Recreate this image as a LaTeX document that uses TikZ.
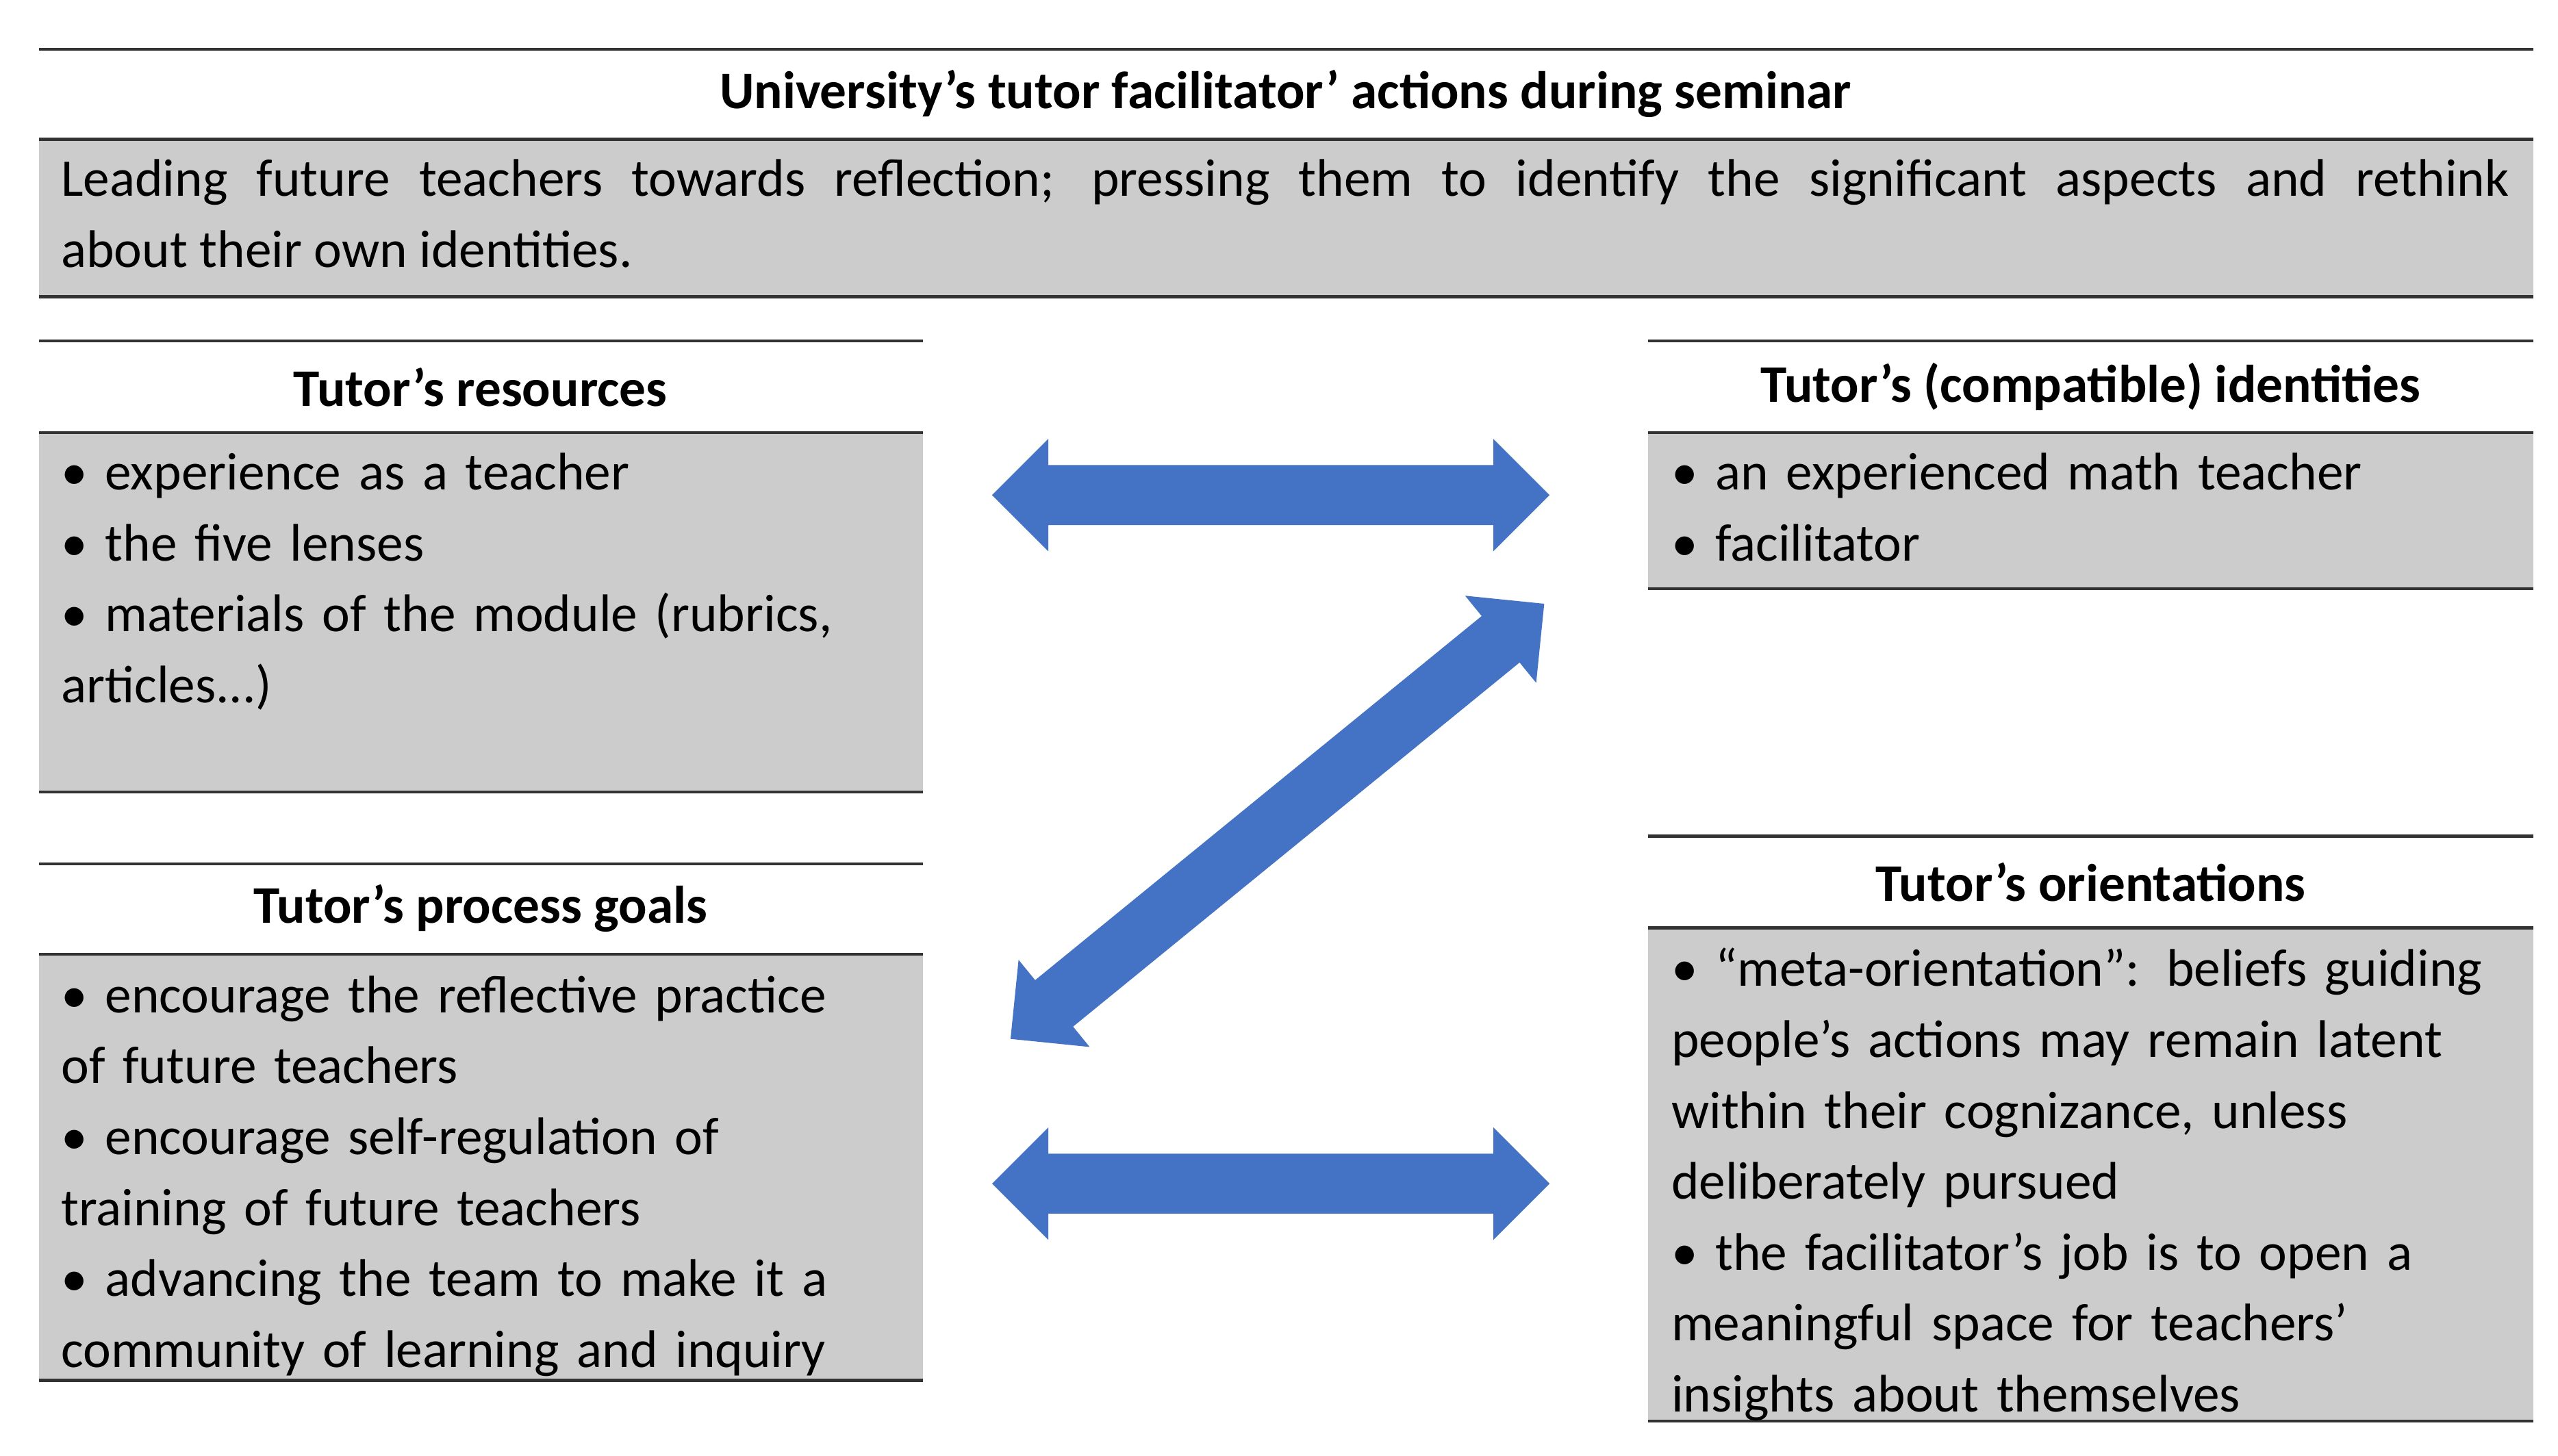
\documentclass[tikz,border=0pt]{standalone}
\usepackage{fontspec}
\setmainfont{Carlito}
\usetikzlibrary{shapes.arrows}
\definecolor{boxgrey}{HTML}{CCCCCC}
\definecolor{arrowblue}{HTML}{4472C4}
\newlength{\pxu}\setlength{\pxu}{0.02395cm}
\tikzset{
  rule/.style={line width=1.2pt, black!80},
  head/.style={font=\fontsize{22}{29.5}\selectfont\bfseries},
  body/.style={anchor=north west, inner sep=0pt, font=\fontsize{22}{29.5}\selectfont, align=left},
  dblarrow/.style={double arrow, fill=arrowblue, draw=none, minimum height=#1,
    inner xsep=0pt, inner ysep=18\pxu, text height=0pt, text depth=0pt,
    double arrow head extend=16\pxu, double arrow tip angle=90},
}
\begin{document}
\begin{tikzpicture}[x=0.02395cm, y=-0.02395cm]
\useasboundingbox (0,0) rectangle (1560,888);
%top panel
\fill[boxgrey] (24,85) rectangle (1545,181);
\draw[rule] (24,30) -- (1545,30);
\draw[rule] (24,85) -- (1545,85);
\draw[rule] (24,181) -- (1545,181);
\node[head] (title) at (784,57) {University’s tutor facilitator’ actions during seminar};
\node[body, text width=1493\pxu, align=justify] (actions) at (37,97)
  {Leading future teachers towards reflection; pressing them to identify the significant aspects and rethink\linebreak about their own identities.};
%four boxes: left top, right top, left bottom, right bottom
\foreach \xa/\xb/\ya/\yb/\yc in {24/563/208/264/483, 1005/1545/208/264/359,
    24/563/527/582/842, 1005/1545/510/566/867}{
  \fill[boxgrey] (\xa,\yb) rectangle (\xb,\yc);
  \draw[rule] (\xa,\ya) -- (\xb,\ya);
  \draw[rule] (\xa,\yb) -- (\xb,\yb);
  \draw[rule] (\xa,\yc) -- (\xb,\yc);
}
\node[head] (reshead) at (293,236) {Tutor’s resources};
\node[body, text width=520\pxu] (resources) at (37,276)
  {• experience as a teacher\\ • the five lenses\\ • materials of the module (rubrics,\\ articles...)};
\node[head] (idhead) at (1275,236) {Tutor’s (compatible) identities};
\node[body, text width=520\pxu] (identities) at (1019,276)
  {• an experienced math teacher\\ • facilitator};
\node[head] (goalhead) at (293,554) {Tutor’s process goals};
\node[body, text width=520\pxu] (goals) at (37,595)
  {• encourage the reflective practice\\ of future teachers\\ • encourage self-regulation of\\ training of future teachers\\ • advancing the team to make it a\\ community of learning and inquiry};
\node[head] (orhead) at (1275,538) {Tutor’s orientations};
\node[body, text width=530\pxu] (orientations) at (1019,578)
  {• “meta-orientation”: beliefs guiding\\ people’s actions may remain latent\\ within their cognizance, unless\\ deliberately pursued\\ • the facilitator's job is to open a\\ meaningful space for teachers'\\ insights about themselves};
%arrows
\node[dblarrow=340\pxu] (toparrow) at (775,302) {};
\node[dblarrow=340\pxu] (botarrow) at (775,722) {};
\node[dblarrow=420\pxu, rotate=39.2] (diagarrow) at (779,501) {};
\end{tikzpicture}
\end{document}
